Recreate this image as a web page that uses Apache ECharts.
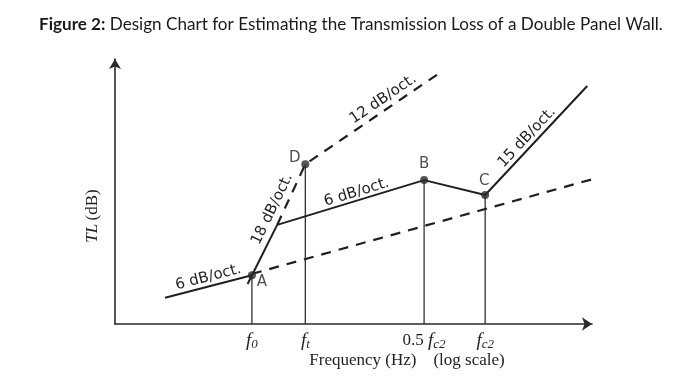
<!DOCTYPE html>
<html><head><meta charset="utf-8">
<script src="https://cdn.jsdelivr.net/npm/echarts@6/dist/echarts.min.js"></script>
<style>html,body{margin:0;padding:0;background:#fff}#c{width:700px;height:389px}</style>
</head><body><div id="c"></div>
<script>
// ---- Data (x: frequency position on log scale, arbitrary units; y: TL, arbitrary dB units) ----
const lowSlope    = [[10.5, 9.9], [28.7, 18.4]];                               // 6 dB/oct up to A (f0)
const steepSlope  = [[27.8, 15.1], [34.0, 37.4]];                              // 18 dB/oct
const upperCurve  = [[34.0, 37.4], [64.8, 54.3], [77.6, 48.7], [99.0, 89.8]];  // 6 dB/oct -> B -> C -> 15 dB/oct
const dashedUpper = [[34.0, 37.4], [39.9, 60.3], [67.7, 94.3]];                // 18 dB/oct -> D -> 12 dB/oct
const dashedLower = [[28.7, 18.9], [100, 54.6]];
const pointNames  = ['A', 'D', 'B', 'C'];
const pointValues = [[28.7, 18.4], [39.9, 60.3], [64.8, 54.3], [77.6, 48.7]];
const tickValues  = [28.7, 39.9, 64.8, 77.6];
const tickLabels  = ['{f|f}{s|0}', '{f|f}{s|t}', '{n|0.5 }{f|f}{s|c2}', '{f|f}{s|c2}'];
const slopeTexts  = ['6 dB/oct.', '18 dB/oct.', '12 dB/oct.', '6 dB/oct.', '15 dB/oct.'];

const INK = '#1f1f1f';
const SANS = 'DejaVu Sans';
const SERIF = 'Liberation Serif';

const chart = echarts.init(document.getElementById('c'), null, {renderer: 'canvas'});

function lineSeries(data, opts) {
  return Object.assign({
    type: 'line', data: data, symbol: 'none', silent: true, animation: false,
    lineStyle: {color: INK, width: 2}
  }, opts || {});
}

const verticals = pointValues.map(p => lineSeries([[p[0], 0], [p[0], p[1]]], {
  lineStyle: {color: '#333', width: 1.3}
}));

const labelOffsets = {A: [10, 7], D: [-10.5, -6], B: [0, -16], C: [-1, -13.5]};

chart.setOption({
  animation: false,
  title: {
    text: '{b|Figure 2:} Design Chart for Estimating the Transmission Loss of a Double Panel Wall.',
    left: 34, top: 11,
    textStyle: {
      fontFamily: 'Lato', fontSize: 17.1, fontWeight: 'normal', color: '#1a1a1a',
      rich: {b: {fontFamily: 'Lato', fontSize: 17.1, fontWeight: 'bold', color: '#1a1a1a'}}
    }
  },
  grid: {left: 115, right: 108, top: 59, bottom: 65},
  xAxis: {
    type: 'value', min: 0, max: 100,
    splitLine: {show: false},
    axisTick: {show: false},
    axisLine: {show: true, symbol: ['none', 'arrow'], symbolSize: [10, 10],
      lineStyle: {color: '#2a2a2a', width: 1.6}},
    axisLabel: {
      show: true, customValues: tickValues, margin: 6,
      formatter: v => tickLabels[tickValues.indexOf(v)] || '',
      rich: {
        f: {fontFamily: SERIF, fontStyle: 'italic', fontSize: 19, color: INK},
        s: {fontFamily: SERIF, fontStyle: 'italic', fontSize: 13, color: INK, padding: [8, 0, 0, 0]},
        n: {fontFamily: SERIF, fontSize: 17, color: INK}
      }
    }
  },
  yAxis: {
    type: 'value', min: 0, max: 100,
    splitLine: {show: false},
    axisTick: {show: false},
    axisLabel: {show: false},
    axisLine: {show: true, symbol: ['none', 'arrow'], symbolSize: [9, 10],
      lineStyle: {color: '#2a2a2a', width: 1.6}}
  },
  series: [
    ...verticals,
    lineSeries(dashedLower, {lineStyle: {color: INK, width: 2.2, type: [10, 8]}}),
    lineSeries(dashedUpper, {lineStyle: {color: INK, width: 2.2, type: [10, 8]}}),
    lineSeries(lowSlope),
    lineSeries(steepSlope),
    lineSeries(upperCurve),
    {
      type: 'scatter', silent: true, animation: false, z: 5,
      symbolSize: 8, itemStyle: {color: '#2b2b2b'},
      data: pointNames.map((n, i) => ({
        name: n, value: pointValues[i],
        label: {offset: labelOffsets[n]}
      })),
      label: {show: true, position: 'inside', formatter: '{b}', color: INK,
        fontFamily: SANS, fontSize: 15}
    }
  ]
});

// slope annotations placed along their segments (fraction t along, perpendicular offset in px)
const slopeSegments = [
  [lowSlope[0], lowSlope[1], 0.524, 9],
  [steepSlope[0], dashedUpper[1], 0.587, 10.3],
  [dashedUpper[1], dashedUpper[2], 0.63, 10.2],
  [upperCurve[0], upperCurve[1], 0.556, 8],
  [upperCurve[2], upperCurve[3], 0.473, 9]
];
const graphics = slopeSegments.map((s, i) => {
  const p = chart.convertToPixel({gridIndex: 0}, s[0]);
  const q = chart.convertToPixel({gridIndex: 0}, s[1]);
  const dx = q[0] - p[0], dy = q[1] - p[1], len = Math.hypot(dx, dy);
  const nx = dy / len, ny = -dx / len;
  return {
    type: 'text', silent: true,
    x: p[0] + dx * s[2] + nx * s[3], y: p[1] + dy * s[2] + ny * s[3],
    rotation: Math.atan2(-dy, dx),
    style: {text: slopeTexts[i], fill: INK, fontFamily: SANS, fontSize: 15,
      align: 'center', verticalAlign: 'middle', textAlign: 'center', textVerticalAlign: 'middle'}
  };
});
graphics.push({
  type: 'text', silent: true, x: 93, y: 216, rotation: Math.PI / 2,
  style: {text: '{i|TL} {r|(dB)}', align: 'center', verticalAlign: 'middle',
    textAlign: 'center', textVerticalAlign: 'middle',
    rich: {i: {fontFamily: SERIF, fontStyle: 'italic', fontSize: 17, fill: INK, color: INK},
           r: {fontFamily: SERIF, fontSize: 17, fill: INK, color: INK}}}
});
graphics.push({
  type: 'text', silent: true, x: 407, y: 361,
  style: {text: 'Frequency (Hz)    (log scale)', fill: INK, fontFamily: SERIF, fontSize: 17,
    align: 'center', verticalAlign: 'middle', textAlign: 'center', textVerticalAlign: 'middle'}
});
chart.setOption({graphic: graphics});
</script></body></html>
